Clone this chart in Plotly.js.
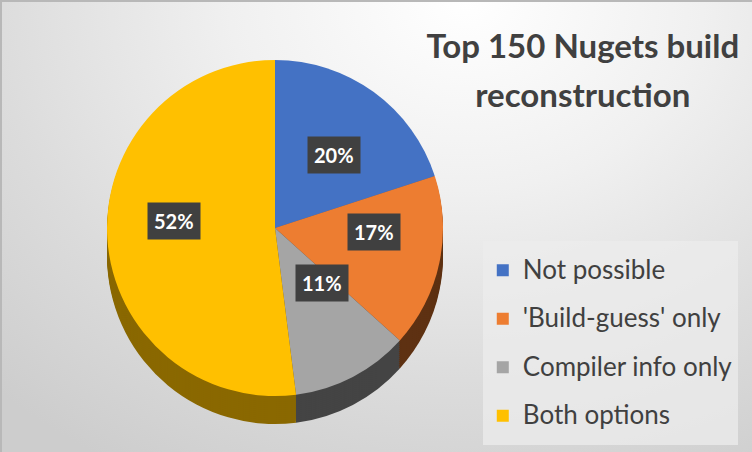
<!DOCTYPE html>
<html>
<head>
<meta charset="utf-8">
<script src="https://cdn.plot.ly/plotly-3.0.1.min.js"></script>
<style>
  html, body { margin: 0; padding: 0; }
  #chart {
    width: 752px; height: 452px;
    background: radial-gradient(ellipse 90% 120% at 62% 0%, #ffffff 0%, #f0f0f0 35%, #dcdcdc 70%, #cdcdcd 100%);
    box-shadow: inset 2px 2px 0 #b8b8b8;
  }
</style>
</head>
<body>
<div id="chart"></div>
<script>
// ---- data ----
const categories = ["Not possible", "'Build-guess' only", "Compiler info only", "Both options"];
const packageCounts = [30, 25, 17, 78];   // of the top 150 NuGet packages
const titleLines = ["Top 150 Nugets build", "reconstruction"];

// ---- styles ----
const faceColors = ["#4472C4", "#ED7D31", "#A5A5A5", "#FFC000"];
const sideColors = ["#2F5597", "#5E3112", "#444444", "#8A6800"];
const W = 752, H = 452;
const dom = { x: [0.1423, 0.5891], y: [0.1217, 0.8694] };
const depthPx = 28, layers = 14;

// legend rows are spaced by the legend font size; the visible text uses a smaller size
const legendTextStyle = 'font-size:26px;baseline-shift:5px';
const legendLabels = categories.map(c => '<span style="' + legendTextStyle + '">' + c + '</span>');

const traces = [];
// 3D side: darker copies of the pie, stacked downward (deepest first)
for (let k = layers; k >= 1; k--) {
  const shift = depthPx * k / layers / H;
  traces.push({
    type: 'pie', labels: legendLabels, values: packageCounts,
    sort: false, direction: 'clockwise', rotation: 0,
    marker: { colors: sideColors, line: { width: 0 } },
    textinfo: 'none', hoverinfo: 'skip', showlegend: false,
    domain: { x: dom.x, y: [dom.y[0] - shift, dom.y[1] - shift] }
  });
}
// top face
traces.push({
  type: 'pie', labels: legendLabels, values: packageCounts,
  sort: false, direction: 'clockwise', rotation: 0,
  marker: { colors: faceColors, line: { width: 0 } },
  textinfo: 'none', hoverinfo: 'percent',
  domain: dom
});

// percentage labels placed at slice mid-angles computed from the data
// (vertical factor smaller to mimic the tilted view)
const total = packageCounts.reduce((a, b) => a + b, 0);
const cx = (dom.x[0] + dom.x[1]) / 2 * W;
const cy = (1 - (dom.y[0] + dom.y[1]) / 2) * H - 12;
const R = Math.min((dom.x[1] - dom.x[0]) * W, (dom.y[1] - dom.y[0]) * H) / 2;
const fx = 0.6, fy = 0.45;
let cum = 0;
const annotations = packageCounts.map((v) => {
  const mid = (cum + v / 2) / total * 2 * Math.PI;
  cum += v;
  const px = cx + fx * R * Math.sin(mid);
  const py = cy - fy * R * Math.cos(mid);
  return {
    x: px / W, y: 1 - py / H, xref: 'paper', yref: 'paper',
    xanchor: 'center', yanchor: 'middle',
    text: Math.round(v / total * 100) + '%', showarrow: false,
    font: { family: 'Lato, sans-serif', size: 20, color: '#ffffff', weight: 'bold' },
    bgcolor: '#404040', borderpad: 6
  };
});

const layout = {
  width: W, height: H,
  margin: { l: 0, r: 0, t: 0, b: 0 },
  paper_bgcolor: 'rgba(0,0,0,0)', plot_bgcolor: 'rgba(0,0,0,0)',
  title: {
    text: titleLines.map(t => '<span style="font-size:33px">' + t + '</span>').join('<br>'),
    font: { family: 'Lato, sans-serif', size: 38, color: '#404040', weight: 'bold' },
    x: 0.775, xanchor: 'center', y: 1 - 58 / H, yanchor: 'middle', yref: 'container'
  },
  showlegend: true,
  legend: {
    x: 0.642, xanchor: 'left', y: 0.0155, yanchor: 'bottom',
    bgcolor: 'rgba(236,236,236,0.75)', borderwidth: 0,
    font: { family: 'Lato, sans-serif', size: 35, color: '#404040' },
    itemwidth: 30, traceorder: 'normal'
  },
  annotations: annotations
};

Plotly.newPlot('chart', traces, layout, { displayModeBar: false, staticPlot: true });
</script>
</body>
</html>
